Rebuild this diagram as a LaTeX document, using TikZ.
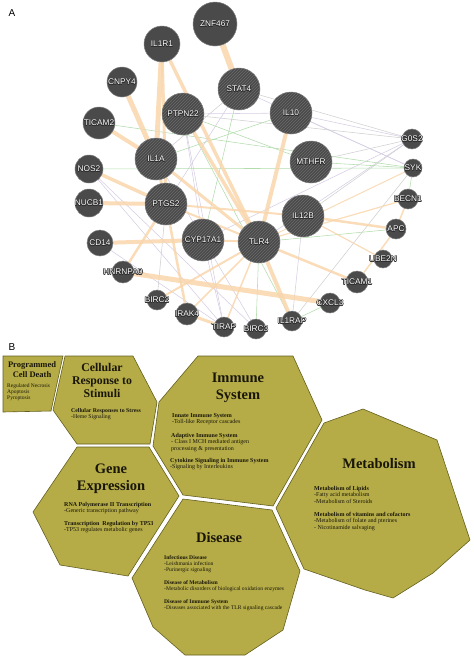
\documentclass[tikz,border=0pt]{standalone}
\usepackage{fontspec}
\newfontfamily\labfont{Liberation Sans}
\newfontfamily\bfont{Liberation Serif}
\usetikzlibrary{patterns,backgrounds}
\definecolor{nodefill}{RGB}{74,74,74}
\definecolor{nodeline}{RGB}{125,125,125}
\definecolor{hatchc}{RGB}{108,108,108}
\definecolor{haloc}{RGB}{45,45,45}
\definecolor{eor}{RGB}{249,214,172}
\definecolor{epu}{RGB}{214,205,228}
\definecolor{egr}{RGB}{178,220,172}
\definecolor{egy}{RGB}{208,208,208}
\definecolor{olivefill}{RGB}{181,172,72}
\definecolor{oliveline}{RGB}{100,95,30}
\definecolor{btext}{RGB}{25,22,8}
\newcommand{\halo}[1]{%
\makebox[0pt][l]{\kern0.5pt\textcolor{haloc}{#1}}%
\makebox[0pt][l]{\kern-0.5pt\textcolor{haloc}{#1}}%
\makebox[0pt][l]{\raisebox{0.5pt}{\textcolor{haloc}{#1}}}%
\makebox[0pt][l]{\raisebox{-0.5pt}{\textcolor{haloc}{#1}}}%
\makebox[0pt][l]{\kern0.35pt\raisebox{0.35pt}{\textcolor{haloc}{#1}}}%
\makebox[0pt][l]{\kern-0.35pt\raisebox{0.35pt}{\textcolor{haloc}{#1}}}%
\makebox[0pt][l]{\kern0.35pt\raisebox{-0.35pt}{\textcolor{haloc}{#1}}}%
\makebox[0pt][l]{\kern-0.35pt\raisebox{-0.35pt}{\textcolor{haloc}{#1}}}%
\textcolor{white}{#1}}
\newcommand{\lab}[1]{\makebox[0pt]{\halo{#1}}}
\begin{document}
\begin{tikzpicture}[x=1pt,y=-1pt,
  gene/.style={circle, fill=nodefill, draw=nodeline, line width=0.5pt, inner sep=0pt,
     font=\labfont\fontsize{8.3}{9}\selectfont, minimum size=#1},
  hatched/.style={preaction={fill=nodefill}, pattern=north east lines, pattern color=hatchc},
  eo/.style={draw=eor, line width=#1, opacity=0.85},
  pu/.style={draw=epu, line width=0.55pt},
  gr/.style={draw=egr, line width=0.55pt},
  gy/.style={draw=egy, line width=0.55pt},
  bpoly/.style={fill=olivefill, draw=oliveline, line width=0.6pt, line join=miter},
  btitle/.style={font=\bfont\bfseries\fontsize{14.5}{16.5}\selectfont, align=center, text=btext, inner sep=0pt},
  bsub/.style={font=\bfont\fontsize{6}{6.4}\selectfont, align=left, anchor=north west, text=btext, inner sep=0pt},
  panel/.style={font=\labfont\fontsize{10}{12}\selectfont, inner sep=0pt}
]
\useasboundingbox (0,0) rectangle (474,659);

% ---------- Panel A ----------
\node[panel] (lblA) at (12,13) {A};

\node[gene=44pt] (ZNF467) at (215,24) {\lab{ZNF467}};
\node[gene=36pt] (IL1R1) at (162,44) {\lab{IL1R1}};
\node[gene=30pt] (CNPY4) at (122,82) {\lab{CNPY4}};
\node[gene=42pt,hatched] (STAT4) at (239,89) {\lab{STAT4}};
\node[gene=42pt,hatched] (PTPN22) at (183,114) {\lab{PTPN22}};
\node[gene=42pt,hatched] (IL10) at (291,113) {\lab{IL10}};
\node[gene=32pt] (TICAM2) at (99,123) {\lab{TICAM2}};
\node[gene=20pt] (G0S2) at (412,139) {\lab{G0S2}};
\node[gene=42pt,hatched] (IL1A) at (156,159) {\lab{IL1A}};
\node[gene=42pt,hatched] (MTHFR) at (311,162) {\lab{MTHFR}};
\node[gene=28pt] (NOS2) at (89,169) {\lab{NOS2}};
\node[gene=18pt] (SYK) at (413,168) {\lab{SYK}};
\node[gene=28pt] (NUCB1) at (89,203) {\lab{NUCB1}};
\node[gene=42pt,hatched] (PTGS2) at (166,204) {\lab{PTGS2}};
\node[gene=20pt] (BECN1) at (408,199) {\lab{BECN1}};
\node[gene=42pt,hatched] (IL12B) at (303,216) {\lab{IL12B}};
\node[gene=20pt] (APC) at (396,229) {\lab{APC}};
\node[gene=26pt] (CD14) at (100,243) {\lab{CD14}};
\node[gene=42pt,hatched] (CYP17A1) at (203,240) {\lab{CYP17A1}};
\node[gene=42pt,hatched] (TLR4) at (259,242) {\lab{TLR4}};
\node[gene=18pt] (UBE2N) at (383,259) {\lab{UBE2N}};
\node[gene=22pt] (HNRNPA0) at (123,272) {\lab{HNRNPA0}};
\node[gene=22pt] (TICAM1) at (357,282) {\lab{TICAM1}};
\node[gene=20pt] (BIRC2) at (157,300) {\lab{BIRC2}};
\node[gene=20pt] (CXCL3) at (330,303) {\lab{CXCL3}};
\node[gene=22pt] (IRAK4) at (187,314) {\lab{IRAK4}};
\node[gene=20pt] (IL1RAP) at (292,321) {\lab{IL1RAP}};
\node[gene=20pt] (TIRAP) at (224,327) {\lab{TIRAP}};
\node[gene=20pt] (BIRC3) at (256,329) {\lab{BIRC3}};

\begin{scope}[on background layer]
  % thin grey / purple
  \draw[gy] (STAT4) -- (G0S2);
  \draw[pu] (STAT4) -- (SYK);
  \draw[pu] (IL10) -- (G0S2);
  \draw[pu] (IL10) -- (SYK);
  \draw[gy] (PTPN22) -- (G0S2);
  \draw[gy] (MTHFR) -- (G0S2);
  \draw[pu] (G0S2) -- (TLR4);
  \draw[gy] (G0S2) -- (IL12B);
  \draw[pu] (G0S2) -- (CYP17A1);
  \draw[gy] (SYK) -- (IL1RAP);
  \draw[gy] (PTGS2) -- (BIRC2);
  \draw[pu] (NOS2) -- (TIRAP);
  \draw[pu] (NOS2) -- (BIRC3);
  \draw[pu] (IL1A) -- (BIRC3);
  \draw[pu] (PTPN22) -- (TIRAP);
  \draw[pu] (STAT4) -- (PTGS2);
  \draw[gy] (STAT4) -- (IL1A);
  \draw[pu] (PTPN22) -- (CYP17A1);
  \draw[pu] (IL10) -- (PTPN22);
  \draw[pu] (CD14) -- (TIRAP);
  \draw[pu] (IL12B) -- (IL1RAP);
  \draw[pu] (CYP17A1) -- (TIRAP);
  % green
  \draw[gr] (TICAM2) -- (SYK);
  \draw[gr] (NOS2) -- (SYK);
  \draw[gr] (MTHFR) -- (SYK);
  \draw[gr] (STAT4) -- (CYP17A1);
  \draw[gr] (PTPN22) -- (IL1RAP);
  \draw[gr] (TLR4) -- (APC);
  \draw[gr] (IL1RAP) -- (CXCL3);
  \draw[gr] (TLR4) -- (BIRC3);
  \draw[gr] (SYK) -- (BECN1);
  \draw[gr] (PTPN22) -- (MTHFR);
  \draw[gr] (IL10) -- (IL1A);
  % orange
  \draw[eo=6pt] (ZNF467) -- (STAT4);
  \draw[eo=5pt] (IL1R1) -- (IL1A);
  \draw[eo=3pt] (IL1R1) -- (PTGS2);
  \draw[eo=3.5pt] (IL1R1) -- (TLR4);
  \draw[eo=5pt] (CNPY4) -- (IL1A);
  \draw[eo=4pt] (TICAM2) -- (IL1A);
  \draw[eo=3.5pt] (NOS2) -- (PTGS2);
  \draw[eo=4pt] (NUCB1) -- (PTGS2);
  \draw[eo=4pt] (CD14) -- (CYP17A1);
  \draw[eo=5pt] (HNRNPA0) -- (CXCL3);
  \draw[eo=2.5pt] (PTGS2) -- (IRAK4);
  \draw[eo=3pt] (IRAK4) -- (TIRAP);
  \draw[eo=4pt] (IL10) -- (TLR4);
  \draw[eo=4pt] (TLR4) -- (IL1RAP);
  \draw[eo=2.5pt] (TLR4) -- (TICAM1);
  \draw[eo=2.5pt] (IL12B) -- (APC);
  \draw[eo=2.5pt] (HNRNPA0) -- (PTGS2);
  \draw[eo=3pt] (IL1A) -- (TLR4);
  \draw[eo=3.5pt] (PTPN22) -- (TLR4);
  \draw[eo=2pt] (PTGS2) -- (IL12B);
  \draw[eo=2pt] (TLR4) -- (BIRC2);
  \draw[eo=1.5pt] (TLR4) -- (IRAK4);
  \draw[eo=1.5pt] (TLR4) -- (TIRAP);
  \draw[eo=1.2pt] (BECN1) -- (TLR4);
  \draw[eo=1.5pt] (BECN1) -- (APC);
  \draw[eo=1.5pt] (APC) -- (TICAM1);
  \draw[eo=1.2pt] (IL12B) -- (UBE2N);
  \draw[eo=1pt] (SYK) -- (TLR4);
  \draw[eo=3pt] (IL1A) -- (PTGS2);
  \draw[eo=2pt] (CYP17A1) -- (TLR4);
  \draw[eo=2pt] (PTGS2) -- (TLR4);
\end{scope}

% ---------- Panel B ----------
\node[panel] (lblB) at (12,347) {B};

\draw[bpoly] (3,356) -- (63,356) -- (51,411) -- (3,412) -- cycle;
\draw[bpoly] (65,356) -- (133,356) -- (157,402) -- (150,444) -- (77,444) -- (53,410) -- cycle;
\draw[bpoly] (198,356) -- (293,356) -- (322,420) -- (273,506) -- (183,495) -- (153,446) -- (159,402) -- cycle;
\draw[bpoly] (77,447) -- (149,447) -- (179,496) -- (128,576) -- (60,565) -- (33,512) -- cycle;
\draw[bpoly] (183,499) -- (272,510) -- (300,571) -- (283,630) -- (245,655) -- (185,655) -- (153,627) -- (132,578) -- cycle;
\draw[bpoly] (324,423) -- (363,409) -- (437,440) -- (470,540) -- (433,573) -- (393,598) -- (365,590) -- (304,569) -- (276,508) -- cycle;

\node[btitle, font=\bfont\bfseries\fontsize{8.5}{9.5}\selectfont] (tPCD) at (32,369.5) {Programmed\\Cell Death};
\node[bsub, font=\bfont\fontsize{5.5}{6}\selectfont] (sPCD) at (7,383) {Regulated Necrosis\\Apoptosis\\Pyroptosis};

\node[btitle, font=\bfont\bfseries\fontsize{11.8}{13}\selectfont] (tCell) at (102,380) {Cellular\\Response to\\Stimuli};
\node[bsub, font=\bfont\fontsize{5.8}{6.4}\selectfont] (sCell) at (71,408) {\textbf{Cellular Responses to Stress}\\-Heme Signaling};

\node[btitle] (tImm) at (238,388) {Immune\\System};
\node[bsub] (sImm1) at (172,413) {\textbf{Innate Immune System}\\-Toll-like Receptor cascades};
\node[bsub] (sImm2) at (171,433) {\textbf{Adaptive Immune System}\\- Class I MCH mediated antigen\\processing \& presentation};
\node[bsub] (sImm3) at (170,458) {\textbf{Cytokine Signaling in Immune System}\\-Signaling by Interleukins};

\node[btitle] (tGene) at (111,478.5) {Gene\\Expression};
\node[bsub] (sGene1) at (64,502) {\textbf{RNA Polymerase II Transcription}\\-Generic transcription pathway};
\node[bsub] (sGene2) at (64,521) {\textbf{Transcription\ \ Regulation by TP53}\\-TP53 regulates metabolic genes};

\node[btitle] (tDis) at (219,538) {Disease};
\node[bsub, font=\bfont\fontsize{5.6}{6.3}\selectfont] (sDis1) at (164,555) {\textbf{Infectious Disease}\\-Leishmania infection\\-Purinergic signaling};
\node[bsub, font=\bfont\fontsize{5.6}{6.3}\selectfont] (sDis2) at (164,580) {\textbf{Disease of Metabolism}\\-Metabolic disorders of biological oxidation enzymes};
\node[bsub, font=\bfont\fontsize{5.6}{6.3}\selectfont] (sDis3) at (164,599) {\textbf{Disease of Immune System}\\-Diseases associated with the TLR signaling cascade};

\node[btitle] (tMet) at (379,464) {Metabolism};
\node[bsub] (sMet1) at (314,486) {\textbf{Metabolism of Lipids}\\-Fatty acid metabolism\\-Metabolism of Steroids};
\node[bsub] (sMet2) at (314,512) {\textbf{Metabolism of vitamins and cofactors}\\-Metabolism of folate and pterines\\- Nicotinamide salvaging};
\end{tikzpicture}
\end{document}
